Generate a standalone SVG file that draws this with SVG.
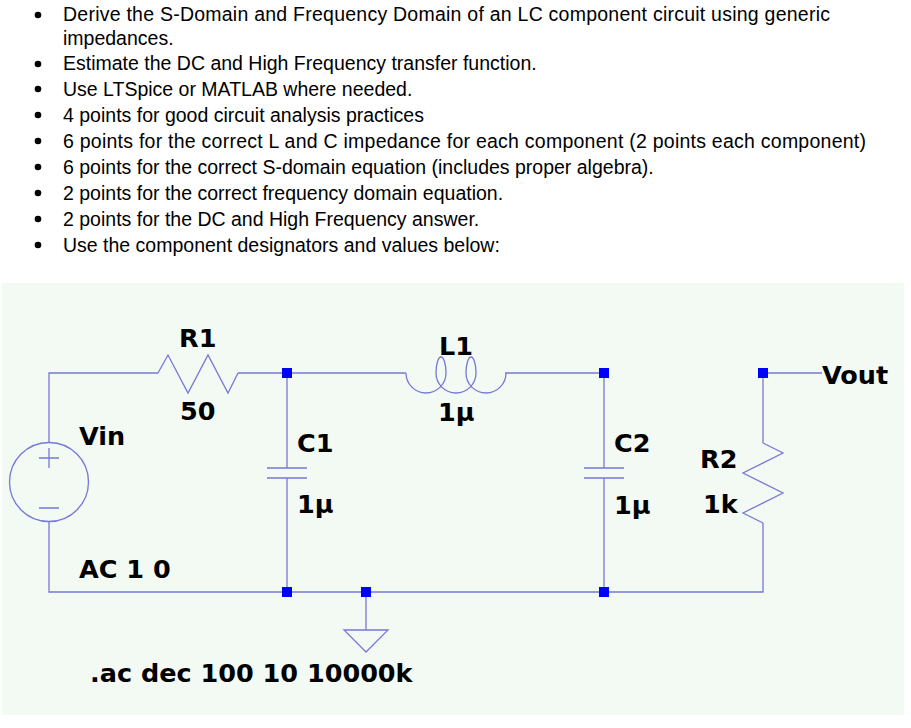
<svg xmlns="http://www.w3.org/2000/svg" width="911" height="728" viewBox="0 0 911 728">
<style>
.b{font-family:"Liberation Sans",Arial,sans-serif;font-size:19.5px;fill:#000}
.l{font-family:"DejaVu Sans",Verdana,sans-serif;font-weight:bold;font-size:25.5px;fill:#000}
.w{stroke:#7878d8;stroke-width:1.3;fill:none}
.j{fill:#0000ff}
</style>
<rect width="911" height="728" fill="#fff"/>
<g id="bullets">
<g fill="#000"><circle cx="38" cy="15" r="3.3"/><circle cx="38" cy="64" r="3.3"/><circle cx="38" cy="89" r="3.3"/><circle cx="38" cy="115" r="3.3"/><circle cx="38" cy="141" r="3.3"/><circle cx="38" cy="167" r="3.3"/><circle cx="38" cy="193" r="3.3"/><circle cx="38" cy="219" r="3.3"/><circle cx="38" cy="245" r="3.3"/></g>
<text class="b" x="63" y="21" textLength="767">Derive the S-Domain and Frequency Domain of an LC component circuit using generic</text>
<text class="b" x="63" y="45">impedances.</text>
<text class="b" x="63" y="70">Estimate the DC and High Frequency transfer function.</text>
<text class="b" x="63" y="96">Use LTSpice or MATLAB where needed.</text>
<text class="b" x="63" y="122">4 points for good circuit analysis practices</text>
<text class="b" x="63" y="148" textLength="803">6 points for the correct L and C impedance for each component (2 points each component)</text>
<text class="b" x="63" y="174">6 points for the correct S-domain equation (includes proper algebra).</text>
<text class="b" x="63" y="200">2 points for the correct frequency domain equation.</text>
<text class="b" x="63" y="226">2 points for the DC and High Frequency answer.</text>
<text class="b" x="63" y="252">Use the component designators and values below:</text>
</g>
<rect x="2" y="283" width="902" height="432" fill="#f3f9f3"/>
<g id="connectors" class="w">
<path d="M158 373H49V442M49 522V592H763V523M763 443V373H822M238 373H406M505 373H604M287 373V468M287 478V592M604 373V468M604 478V592M366 592V630"/>
</g>
<g id="Vin" class="w"><circle cx="49" cy="482" r="39.5"/><path d="M39 458H59M49 448V468M39 508H59"/></g>
<g id="R1" class="w"><path d="M158 373L168 355L188 393L208 355L228 393L238 373"/></g>
<g id="C1" class="w"><path d="M267 468H307M267 478H307"/></g>
<g id="C2" class="w"><path d="M584 468H624M584 478H624"/></g>
<g id="L1" class="w"><path d="M406 373A20 20 0 0 0 446 373M436 373A20 20 0 0 0 476 373M466 373A20 20 0 0 0 506 373M446 373A5 16 0 1 0 436 373M476 373A5 16 0 1 0 466 373"/></g>
<g id="R2" class="w"><path d="M763 443L783 453L743 473L783 493L743 513L763 523"/></g>
<g id="GND" class="w"><path d="M344 630H388L366 652Z"/></g>
<g id="junctions" class="j"><rect x="282" y="368" width="10" height="10"/><rect x="599" y="368" width="10" height="10"/><rect x="758" y="368" width="10" height="10"/><rect x="282" y="587" width="10" height="10"/><rect x="361" y="587" width="10" height="10"/><rect x="599" y="587" width="10" height="10"/></g>
<g id="labels">
<text class="l" x="179" y="347">R1</text><text class="l" x="180" y="420">50</text>
<text class="l" x="79" y="445">Vin</text><text class="l" x="79" y="578">AC 1 0</text>
<text class="l" x="297" y="452">C1</text><text class="l" x="297" y="513">1µ</text>
<text class="l" x="439" y="355">L1</text><text class="l" x="438" y="421">1µ</text>
<text class="l" x="614" y="452">C2</text><text class="l" x="614" y="514">1µ</text>
<text class="l" x="700" y="468">R2</text><text class="l" x="703" y="513">1k</text>
<text class="l" x="822" y="384">Vout</text>
<text class="l" x="90" y="682">.ac dec 100 10 10000k</text>
</g>
</svg>
